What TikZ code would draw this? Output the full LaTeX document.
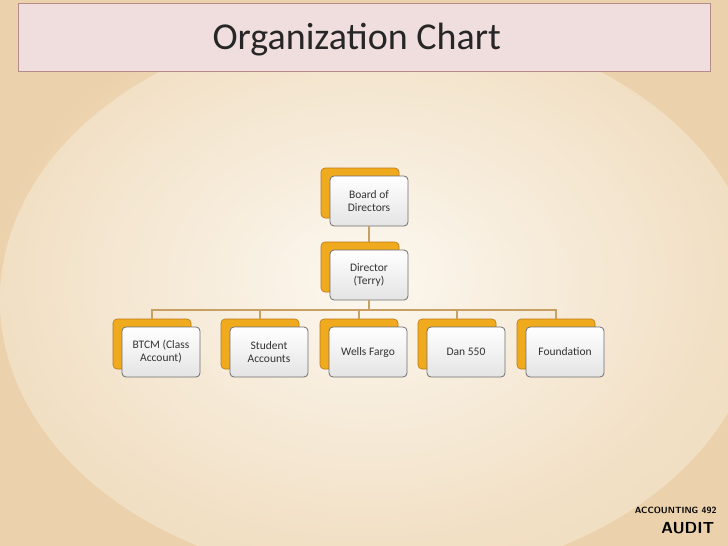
\documentclass[tikz,border=0pt]{standalone}
\usepackage{fontspec}
\setmainfont{Carlito}
\usetikzlibrary{shadings}
\definecolor{bgout}{RGB}{236,210,172}
\definecolor{bgin}{RGB}{252,248,240}
\definecolor{titlefill}{RGB}{240,222,222}
\definecolor{titleline}{RGB}{180,140,140}
\definecolor{org}{RGB}{240,170,30}
\definecolor{orgd}{RGB}{190,120,20}
\definecolor{boxf}{RGB}{228,228,228}
\definecolor{boxd}{RGB}{110,110,110}
\definecolor{conn}{RGB}{200,160,100}
\tikzset{
  backbox/.style={draw=orgd,fill=org,rounded corners=4pt,minimum width=78pt,minimum height=50pt,line width=0.6pt},
  frontbox/.style={draw=boxd,top color=white,bottom color=boxf,rounded corners=4pt,minimum width=78pt,minimum height=50pt,line width=0.8pt,align=center,font=\fontsize{11.5}{13}\selectfont,text=black!80},
  link/.style={draw=conn,line width=1.2pt}
}
\begin{document}
\begin{tikzpicture}[x=1pt,y=-1pt]
\useasboundingbox (0,0) rectangle (728,546);
\shade[inner color=bgin,outer color=bgout] (0,0) rectangle (728,546);
\shade[inner color=bgin,outer color=bgin!70!bgout,opacity=0.5] (380,300) ellipse (380 and 280);
\node[draw=titleline,fill=titlefill,minimum width=692pt,minimum height=68pt,anchor=north west,inner sep=0pt,line width=0.8pt] (title) at (18,3) {};
\node[anchor=west,font=\fontsize{38}{42}\selectfont,text=black!85] (tt) at (209,40) {Organization Chart};
\node[backbox] (bb) at (360,193) {};
\node[frontbox] (b) at (369,201) {Board of\\Directors};
\node[backbox] (db) at (360,267) {};
\node[frontbox] (d) at (369,275) {Director\\(Terry)};
\coordinate (hub) at (369,310);
\foreach \n/\x/\t in {c1/161/{BTCM (Class\\Account)},c2/269/{Student\\Accounts},c3/368/{Wells Fargo},c4/466/{Dan 550},c5/565/{Foundation}}{
  \node[backbox] (\n b) at (\x-9,344) {};
  \node[frontbox] (\n) at (\x,352) {\t};
  \draw[link] (hub) -| (\n b.north);
}
\draw[link] (b.south) -- (b.south |- db.north);
\draw[link] (d.south) -- (hub);
\node[anchor=east,font=\bfseries\sffamily\fontsize{9}{10}\selectfont] (acc) at (720,510) {ACCOUNTING 492};
\node[anchor=east,font=\bfseries\sffamily\fontsize{16}{17}\selectfont] (aud) at (718,528) {AUDIT};
\end{tikzpicture}
\end{document}
